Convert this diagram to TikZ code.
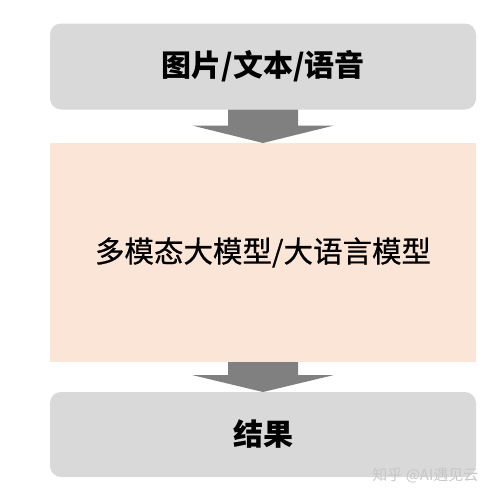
\documentclass[tikz,border=0pt]{standalone}
\usepackage{fontspec}
\setmainfont{Noto Sans CJK SC}
\newfontfamily\medfont{Noto Sans CJK SC}[FakeBold=0.6]
\usepackage{xcolor}
\usetikzlibrary{calc}
\definecolor{boxgray}{HTML}{D9D9D9}
\definecolor{arrowgray}{HTML}{808080}
\definecolor{peach}{HTML}{FBE5D6}
\tikzset{
  stage/.style = {rectangle, fill=boxgray, rounded corners=11pt,
                  minimum width=426pt, minimum height=#1,
                  inner sep=0pt, outer sep=0pt,
                  font=\fontsize{30}{36}\selectfont\bfseries},
  stage/.default = 86pt,
  model/.style = {rectangle, fill=peach, minimum width=426pt,
                  minimum height=219pt, inner sep=0pt, outer sep=0pt,
                  font=\fontsize{29.5}{36}\medfont}
}

\begin{document}
\begin{tikzpicture}[x=1pt,y=-1pt]
	\def \shaft{35}
	\def \head{71}
	\def \neck{16}

	\useasboundingbox (0,0) rectangle (494,498);

	% Boxes
	\node[stage] (input) at (263,66.5) {图片/文本/语音};
	\node[model] (llm) at (263,252.5) {多模态大模型/大语言模型};
	\node[stage=85pt] (result) at (263,434.5) {结果};

	% Arrows
	\fill[arrowgray] ($(input.south)+(-\shaft,0)$) -- ($(input.south)+(\shaft,0)$)
		-- ($(input.south)+(\shaft,\neck)$) -- ($(input.south)+(\head,\neck)$)
		-- (llm.north) -- ($(input.south)+(-\head,\neck)$)
		-- ($(input.south)+(-\shaft,\neck)$) -- cycle;
	\fill[arrowgray] ($(llm.south)+(-\shaft,0)$) -- ($(llm.south)+(\shaft,0)$)
		-- ($(llm.south)+(\shaft,13)$) -- ($(llm.south)+(\head,13)$)
		-- (result.north) -- ($(llm.south)+(-\head,13)$)
		-- ($(llm.south)+(-\shaft,13)$) -- cycle;

	% Watermark
	\node[text=black!22, font=\fontsize{15}{17}\selectfont, anchor=east] (mark)
		at (482,475) {知乎 @AI遇见云};
\end{tikzpicture}
\end{document}
